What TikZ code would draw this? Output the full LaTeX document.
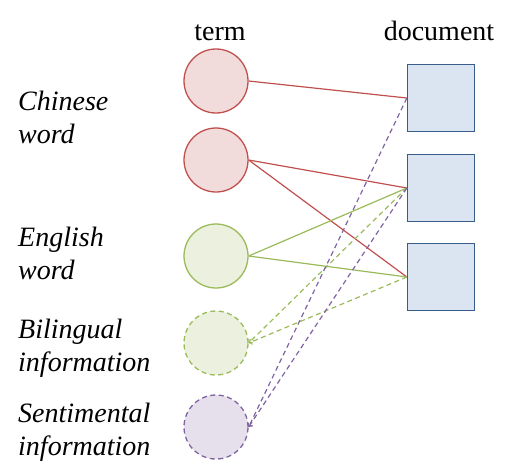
\documentclass[tikz,border=0pt]{standalone}
\usepackage{fontspec}
\setmainfont{Liberation Serif}
\usetikzlibrary{arrows,shapes}
\definecolor{redline}{HTML}{C0504D}
\definecolor{redfill}{HTML}{F2DCDB}
\definecolor{greenline}{HTML}{9BBB59}
\definecolor{greenfill}{HTML}{EBF1DE}
\definecolor{purpleline}{HTML}{8064A2}
\definecolor{purplefill}{HTML}{E5E0EC}
\definecolor{blueline}{HTML}{385D8A}
\definecolor{bluefill}{HTML}{DBE5F1}

\begin{document}
\begin{tikzpicture}[x=1pt,y=-1pt,
    term/.style={circle,minimum size=64pt,inner sep=0,line width=1.3pt},
    doc/.style={rectangle,minimum size=67pt,inner sep=0,line width=1.3pt,draw=blueline,fill=bluefill},
    lbl/.style={anchor=base west,align=left,font=\fontsize{28}{33}\selectfont\itshape,inner sep=0},
    head/.style={anchor=base,font=\fontsize{28}{33}\selectfont,inner sep=0},
    link/.style={line width=1.2pt},
    dlink/.style={line width=1.2pt,dash pattern=on 5pt off 3.5pt,->,>=to}]

    \useasboundingbox (0,0) rectangle (505,475);

    % term column
    \node[term,draw=redline,fill=redfill] (c1) at (216,81) {};
    \node[term,draw=redline,fill=redfill] (c2) at (216,160) {};
    \node[term,draw=greenline,fill=greenfill] (e1) at (216,256) {};
    \node[term,draw=greenline,fill=greenfill,dash pattern=on 5pt off 3.5pt] (b1) at (216,343) {};
    \node[term,draw=purpleline,fill=purplefill,dash pattern=on 5pt off 3.5pt] (s1) at (216,427) {};

    % document column
    \node[doc] (d1) at (441,98) {};
    \node[doc] (d2) at (441,188) {};
    \node[doc] (d3) at (441,277) {};

    \node[head] (hterm) at (220,40) {term};
    \node[head] (hdoc) at (439,40) {document};

    \node[lbl] (lc) at (18,143) {Chinese\\word};
    \node[lbl] (le) at (18,279) {English\\word};
    \node[lbl] (lb) at (18,371) {Bilingual\\information};
    \node[lbl] (ls) at (18,455) {Sentimental\\information};

    \draw[redline,link] (c1.east) -- (d1.west);
    \draw[redline,link] (c2.east) -- (d2.west);
    \draw[redline,link] (c2.east) -- (d3.west);
    \draw[greenline,link] (e1.east) -- (d2.west);
    \draw[greenline,link] (e1.east) -- (d3.west);

    \draw[greenline,dlink] (d2.west) -- (b1.east);
    \draw[greenline,dlink] (d3.west) -- (b1.east);
    \draw[purpleline,dlink] (d1.west) -- (s1.east);
    \draw[purpleline,dlink] (d2.west) -- (s1.east);

\end{tikzpicture}
\end{document}
